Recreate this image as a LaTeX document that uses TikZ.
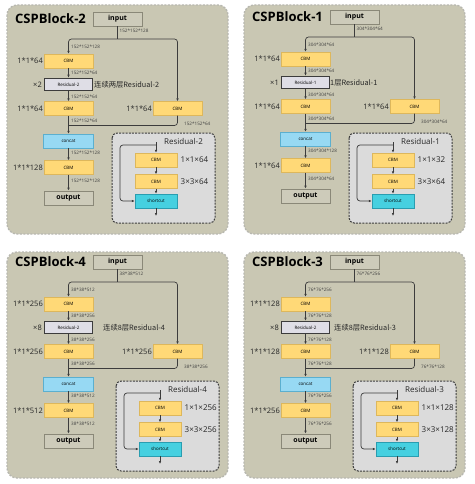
\documentclass[tikz,border=0pt]{standalone}
\usepackage{fontspec}
\setmainfont{Open Sans}
\newfontfamily\cjk{Noto Sans CJK SC}
\usetikzlibrary{arrows.meta}
\definecolor{panelfill}{HTML}{C9C7B3}
\definecolor{paneldraw}{HTML}{B8B8B0}
\definecolor{linec}{HTML}{3C3C3C}
\definecolor{cbmf}{HTML}{FFD977}
\definecolor{cbmd}{HTML}{DDB75C}
\definecolor{catf}{HTML}{97D9F3}
\definecolor{catd}{HTML}{5BAFCF}
\definecolor{scf}{HTML}{46D0E0}
\definecolor{scd}{HTML}{2A9DB0}
\definecolor{resf}{HTML}{DFDEE6}
\definecolor{iof}{HTML}{CDCBBA}
\definecolor{iod}{HTML}{8A8878}
\definecolor{insetf}{HTML}{DBDBDB}
\definecolor{tinyc}{HTML}{404040}
\tikzset{
  ln/.style={draw=linec, line width=0.7pt},
  arr/.style={ln, -{Latex[length=3pt,width=2.6pt]}},
  boxbase/.style={inner sep=0pt, minimum height=14pt, font=\fontsize{4.5}{5}\selectfont},
  cbm/.style={boxbase, draw=cbmd, fill=cbmf, line width=0.4pt, minimum width=49pt},
  icbm/.style={cbm, minimum width=42pt},
  cat/.style={boxbase, draw=catd, fill=catf, line width=0.4pt, minimum width=50pt},
  sc/.style={boxbase, draw=scd, fill=scf, line width=0.4pt, minimum width=42pt},
  resbox/.style={boxbase, draw=linec, fill=resf, line width=1.1pt, minimum width=48pt, minimum height=12.5pt},
  io/.style={boxbase, draw=iod, fill=iof, line width=0.8pt, minimum width=49pt, font=\fontsize{7}{8}\selectfont\bfseries},
  tiny/.style={inner sep=0pt, text=tinyc, font=\fontsize{4.6}{5}\selectfont},
  side/.style={inner sep=0pt, text=black!85, font=\fontsize{7.5}{8}\selectfont},
  iside/.style={inner sep=0pt, text=black!85, font=\fontsize{8}{9}\selectfont},
  cjklab/.style={inner sep=0pt, text=black!85, font=\cjk\fontsize{7.3}{8}\selectfont},
  ttl/.style={inner sep=0pt, font=\fontsize{13}{15}\selectfont\bfseries},
  ititle/.style={inner sep=0pt, text=black!85, font=\fontsize{8}{9}\selectfont},
  panel/.style={fill=panelfill, draw=paneldraw, line width=1.4pt, dash pattern=on 2pt off 1.5pt, rounded corners=10pt},
  insetbox/.style={fill=insetf, draw=linec, line width=1pt, dash pattern=on 2pt off 1.2pt, rounded corners=5pt},
}
\newcommand\cspanel[5]{%
\begin{scope}[shift={(#2,#3)}, name prefix=#1-]
  \node[ttl, anchor=west] (ttl) at (15,19) {\cspT};
  \node[io] (in) at (117.5,19) {input};
  \coordinate (split) at (117.5,39);
  \node[cbm] (ca) at (68.5,61) {CBM};
  \node[resbox] (res) at (68.5,84.5) {\cspF};
  \node[cbm] (cb) at (68.5,108.5) {CBM};
  \node[cbm] (cr) at (177.5,108.5) {CBM};
  \coordinate (join) at (68.5,125.5);
  \node[cat] (cat) at (68.5,141) {concat};
  \node[cbm] (cc) at (68.5,167.5) {CBM};
  \node[io] (out) at (68.5,198) {output};
  \draw[ln] (in.south) -- (split);
  \draw[arr, rounded corners=3pt] (split) -| (ca.north);
  \draw[arr, rounded corners=3pt] (split) -| (cr.north);
  \draw[arr] (ca) -- (res);
  \draw[arr] (res) -- (cb);
  \draw[ln] (cb.south) -- (join);
  \draw[ln, rounded corners=3pt] (cr.south) |- (join);
  \draw[arr] (join) -- (cat.north);
  \draw[arr] (cat) -- (cc);
  \draw[arr] (cc) -- (out);
  \node[tiny, anchor=west] (lA) at (119.5,31) {\cspA};
  \node[tiny, anchor=west] (lB) at (71,47) {\cspB};
  \node[side, anchor=east] (lC) at (43,61) {\cspC};
  \node[tiny, anchor=west] (lD) at (71,72.5) {\cspD};
  \node[side, anchor=east] (lE) at (42,84.5) {\cspE};
  \node[cjklab, anchor=west] (lG) at (\cspGx,84.5) {\cspG};
  \node[tiny, anchor=west] (lH) at (71,97) {\cspH};
  \node[side, anchor=east] (lI) at (43,108.5) {\cspI};
  \node[side, anchor=east] (lJ) at (152,108.5) {\cspJ};
  \node[tiny, anchor=west] (lK) at (71,121) {\cspK};
  \node[tiny, anchor=west] (lL) at (184,124) {\cspL};
  \node[tiny, anchor=west] (lM) at (71,153) {\cspM};
  \node[side, anchor=east] (lN) at (43,167.5) {\cspN};
  \node[tiny, anchor=west] (lO) at (71,180.5) {\cspO};
  \begin{scope}[shift={(#4,#5)}]
    \draw[insetbox] (112,133) rectangle (215,223);
    \node[ititle] (iT) at (183.5,141) {\cspP};
    \coordinate (itop) at (156,142);
    \coordinate (ibr) at (156,145);
    \coordinate (iloop) at (120,145);
    \node[icbm] (ia) at (156,160) {CBM};
    \node[icbm] (ib) at (156,181.5) {CBM};
    \node[sc] (isc) at (156,201) {shortcut};
    \coordinate (iout) at (156,216);
    \node[iside, anchor=west] (iQ) at (180.5,160) {\cspQ};
    \node[iside, anchor=west] (iR) at (180.5,181.5) {\cspR};
    \draw[arr] (itop) -- (ia);
    \draw[arr] (ia) -- (ib);
    \draw[arr] (ib) -- (isc);
    \draw[arr] (isc) -- (iout);
    \draw[arr, rounded corners=3pt] (ibr) -- (iloop) |- (isc.west);
  \end{scope}
\end{scope}}
\begin{document}
\begin{tikzpicture}[x=1pt,y=-1pt]
\useasboundingbox (0,0) rectangle (474,484);
\fill[white] (0,0) rectangle (474,484);
\draw[panel] (7,5) rectangle (228,234);
\draw[panel] (244,5) rectangle (465,234);
\draw[panel] (7,252) rectangle (228,478);
\draw[panel] (244,252) rectangle (465,478);
% CSPBlock-2
\def\cspT{CSPBlock-2}\def\cspA{152*152*128}\def\cspB{152*152*128}\def\cspC{1*1*64}
\def\cspD{152*152*64}\def\cspE{×2}\def\cspF{Residual-2}\def\cspG{连续两层Residual-2}\def\cspGx{94}
\def\cspH{152*152*64}\def\cspI{1*1*64}\def\cspJ{1*1*64}\def\cspK{152*152*64}\def\cspL{152*152*64}
\def\cspM{152*152*128}\def\cspN{1*1*128}\def\cspO{152*152*128}\def\cspP{Residual-2}\def\cspQ{1×1×64}\def\cspR{3×3×64}
\cspanel{tl}{0}{0}{0}{0}
% CSPBlock-1
\def\cspT{CSPBlock-1}\def\cspA{304*304*64}\def\cspB{304*304*64}\def\cspC{1*1*64}
\def\cspD{304*304*64}\def\cspE{×1}\def\cspF{Residual-1}\def\cspG{1层Residual-1}\def\cspGx{93}
\def\cspH{304*304*64}\def\cspI{1*1*64}\def\cspJ{1*1*64}\def\cspK{304*304*64}\def\cspL{304*304*64}
\def\cspM{304*304*128}\def\cspN{1*1*64}\def\cspO{304*304*64}\def\cspP{Residual-1}\def\cspQ{1×1×32}\def\cspR{3×3×64}
\cspanel{tr}{237}{-2}{0}{2}
% CSPBlock-4
\def\cspT{CSPBlock-4}\def\cspA{38*38*512}\def\cspB{38*38*512}\def\cspC{1*1*256}
\def\cspD{38*38*256}\def\cspE{×8}\def\cspF{Residual-2}\def\cspG{连续8层Residual-4}\def\cspGx{103}
\def\cspH{38*38*256}\def\cspI{1*1*256}\def\cspJ{1*1*256}\def\cspK{38*38*256}\def\cspL{38*38*256}
\def\cspM{38*38*512}\def\cspN{1*1*512}\def\cspO{38*38*512}\def\cspP{Residual-4}\def\cspQ{1×1×256}\def\cspR{3×3×256}
\cspanel{bl}{0}{243}{4}{5}
% CSPBlock-3
\def\cspT{CSPBlock-3}\def\cspA{76*76*256}\def\cspB{76*76*256}\def\cspC{1*1*128}
\def\cspD{76*76*128}\def\cspE{×8}\def\cspF{Residual-2}\def\cspG{连续8层Residual-3}\def\cspGx{97}
\def\cspH{76*76*128}\def\cspI{1*1*128}\def\cspJ{1*1*128}\def\cspK{76*76*128}\def\cspL{76*76*128}
\def\cspM{76*76*256}\def\cspN{1*1*256}\def\cspO{76*76*256}\def\cspP{Residual-3}\def\cspQ{1×1×128}\def\cspR{3×3×128}
\cspanel{br}{237}{243}{4}{5}
\end{tikzpicture}
\end{document}
